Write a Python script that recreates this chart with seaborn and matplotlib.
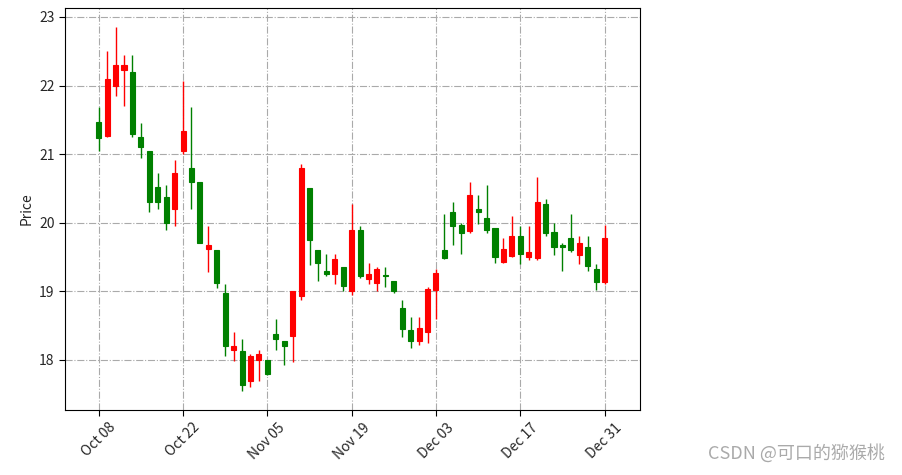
import matplotlib.pyplot as plt
import pandas as pd
import seaborn as sns

dates = pd.bdate_range("2018-10-08", "2018-12-31")
opens = [21.47, 21.27, 22.0, 22.22, 22.2, 21.25, 21.05, 20.52, 20.38, 20.2,
         21.05, 20.8, 20.6, 19.62, 19.6, 18.97, 18.15, 18.13, 17.7, 18.0,
         18.0, 18.38, 18.27, 18.35, 18.93, 20.5, 19.6, 19.3, 19.25, 19.35,
         19.0, 19.9, 19.18, 19.12, 19.22, 19.15, 18.75, 18.43, 18.27, 18.4,
         19.02, 19.6, 20.15, 19.97, 19.88, 20.2, 20.07, 19.92, 19.43, 19.52,
         19.8, 19.5, 19.48, 20.28, 19.87, 19.67, 19.78, 19.53, 19.65, 19.33, 19.13]
highs = [21.68, 22.5, 22.85, 22.45, 22.45, 21.45, 21.05, 20.72, 20.55, 20.92,
         22.07, 21.68, 20.6, 19.95, 19.6, 19.1, 18.4, 18.3, 18.08, 18.15,
         18.0, 18.6, 18.28, 19.0, 20.85, 20.5, 19.6, 19.55, 19.55, 19.35,
         20.27, 19.95, 19.42, 19.35, 19.35, 19.15, 18.87, 18.63, 18.63, 19.07,
         19.33, 20.13, 20.3, 20.0, 20.6, 20.4, 20.55, 19.92, 19.78, 20.1,
         19.95, 19.95, 20.67, 20.35, 20.0, 19.7, 20.13, 19.8, 19.8, 19.4, 19.97]
lows = [21.05, 21.25, 21.85, 21.7, 21.25, 20.95, 20.15, 20.2, 19.9, 19.95,
        21.0, 20.2, 19.7, 19.28, 19.05, 18.05, 17.98, 17.55, 17.6, 17.7,
        17.78, 18.15, 17.92, 17.97, 18.88, 19.38, 19.15, 19.22, 19.1, 19.0,
        18.95, 19.2, 19.1, 19.0, 19.07, 18.97, 18.33, 18.18, 18.22, 18.25,
        18.6, 19.47, 19.68, 19.55, 19.85, 19.98, 19.85, 19.42, 19.42, 19.5,
        19.4, 19.46, 19.45, 19.8, 19.53, 19.3, 19.58, 19.4, 19.3, 19.02, 19.1]
closes = [21.23, 22.1, 22.3, 22.3, 21.3, 21.1, 20.3, 20.3, 20.0, 20.72,
          21.33, 20.6, 19.7, 19.67, 19.12, 18.2, 18.2, 17.63, 18.05, 18.08,
          17.8, 18.3, 18.2, 19.0, 20.8, 19.75, 19.42, 19.25, 19.47, 19.08,
          19.9, 19.22, 19.25, 19.32, 19.22, 19.0, 18.45, 18.27, 18.47, 19.03,
          19.27, 19.48, 19.95, 19.85, 20.4, 20.15, 19.9, 19.5, 19.62, 19.8,
          19.55, 19.57, 20.3, 19.85, 19.65, 19.65, 19.6, 19.7, 19.37, 19.13, 19.77]

df = pd.DataFrame({"Open": opens, "High": highs, "Low": lows, "Close": closes}, index=dates)
df["i"] = range(len(df))
df["color"] = ["red" if c > o else "green" for o, c in zip(df.Open, df.Close)]

sns.set_style("white")
plt.rcParams['font.family'] = ['Noto Sans CJK SC', 'DejaVu Sans']
fig = plt.figure(figsize=(9.02, 4.75), dpi=100)
ax = fig.add_axes([65 / 902, 65 / 475, 575 / 902, 402 / 475])

ax.vlines(df.i, df.Low, df.High, colors=df.color, linewidth=1, zorder=2)
ax.bar(df.i, (df.Close - df.Open).where(lambda s: s.abs() > 0.02, 0.02), bottom=df.Open,
       width=0.6, color=df.color, edgecolor=df.color, linewidth=0.8, zorder=3)

ticks = list(range(0, len(df), 10))
ax.set_xticks(ticks)
ax.set_xticklabels([dates[t].strftime("%b %d") for t in ticks], rotation=45)
ax.set_xlim(-4, 64.2)
ax.set_ylim(17.27, 23.13)
ax.set_ylabel("Price")
ax.grid(True, linestyle="-.", color="#aaaaaa", linewidth=0.8)
for s in ax.spines.values():
    s.set_color("black")
ax.tick_params(left=True, bottom=True, direction="out", length=4, color="black")

fig.text(885 / 902, 12 / 475, "CSDN @可口的猕猴桃", ha="right", va="bottom",
         fontsize=13, color="#aaaaaa")
fig.savefig("out.png")
